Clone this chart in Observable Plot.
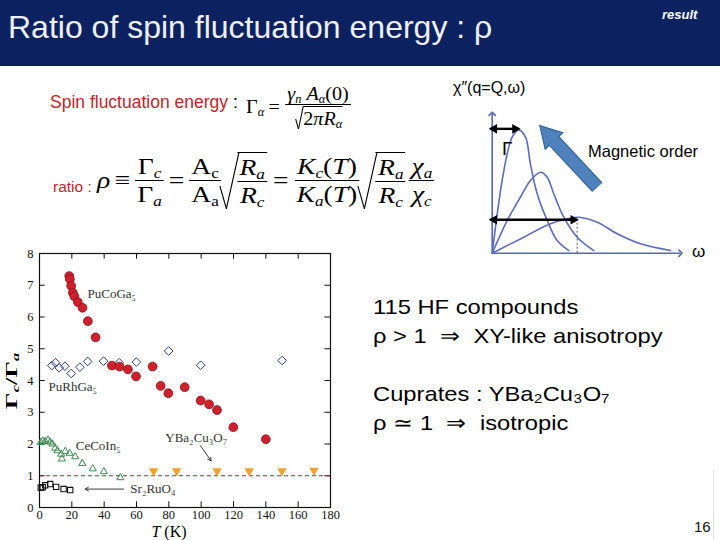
<!DOCTYPE html>
<html>
<head>
<meta charset="utf-8">
<script src="https://cdn.jsdelivr.net/npm/d3@7"></script>
<script src="https://cdn.jsdelivr.net/npm/@observablehq/plot@0.6"></script>
<style>
html,body{margin:0;padding:0;background:#fff;}
#slide{position:relative;width:720px;height:540px;overflow:hidden;background:#fff;font-family:"Liberation Sans",Arial,sans-serif;color:#000;}
.abs{position:absolute;white-space:nowrap;line-height:1;}
#header{left:0;top:0;width:720px;height:66px;background:#0c2260;}
#title{left:8px;top:11px;font-size:32px;color:#eef0f6;}
#result{left:662px;top:8px;font-size:13px;font-style:italic;font-weight:bold;color:#fff;}
.red{color:#c3242b;}
.math{font-family:"Liberation Serif","Times New Roman",serif;display:flex;align-items:center;}
.frac{display:inline-flex;flex-direction:column;align-items:center;line-height:1.12;}
.frac>span{padding:0 2px;}
.frac>span:first-child{border-bottom:1px solid #000;}
sub{font-size:0.62em;vertical-align:-0.25em;line-height:0;}
.sqrt{display:inline-block;position:relative;padding-left:14px;vertical-align:middle;}
.sqrt>.rad{display:inline-block;border-top:1.2px solid #000;padding-top:1px;}
.sqrt::before{content:"";position:absolute;left:4px;top:0;bottom:0;border-left:1.3px solid #000;transform:skewX(-11deg);transform-origin:bottom;}
.sqrt::after{content:"";position:absolute;left:4px;bottom:0;height:40%;border-left:1.3px solid #000;transform:skewX(14deg);transform-origin:bottom;}
.sqrt.s{padding-left:9px;}
.sqrt.s::after{height:45%;}
#notes{left:373px;top:292px;font-size:21px;line-height:29px;white-space:pre;transform:scaleX(1.13);transform-origin:left top;}
</style>
</head>
<body>
<div id="slide">
  <div class="abs" id="header"></div>
  <div class="abs" id="title">Ratio of spin fluctuation energy : ρ</div>
  <div class="abs" id="result">result</div>

  <div class="abs" style="left:50px;top:94px;font-size:17.5px;"><span class="red">Spin fluctuation energy</span> :</div>
  <div class="abs math" id="f1" style="left:246px;top:83px;font-size:19px;transform:scaleX(1.06);transform-origin:left top;">
    <span>Γ<sub><i>α</i></sub></span><span style="margin:0 5px 0 4px">=</span>
    <span class="frac"><span><i>γ<sub>n</sub></i> <i>A<sub>α</sub></i>(0)</span><span><span class="sqrt s"><span class="rad">2<i>πR<sub>α</sub></i></span></span></span></span>
  </div>

  <div class="abs red" style="left:53px;top:179px;font-size:15.5px;">ratio :</div>
  <div class="abs math" id="f2" style="left:97px;top:152px;font-size:24px;transform:scaleX(1.15);transform-origin:left top;">
    <span><i>ρ</i></span><span style="margin:0 4px">≡</span>
    <span class="frac"><span>Γ<sub><i>c</i></sub></span><span>Γ<sub><i>a</i></sub></span></span>
    <span style="margin:0 4px">=</span>
    <span class="frac"><span>A<sub>c</sub></span><span>A<sub>a</sub></span></span>
    <span class="sqrt"><span class="rad"><span class="frac"><span><i>R<sub>a</sub></i></span><span><i>R<sub>c</sub></i></span></span></span></span>
    <span style="margin:0 5px">=</span>
    <span class="frac"><span><i>K<sub>c</sub></i>(<i>T</i>)</span><span><i>K<sub>a</sub></i>(<i>T</i>)</span></span>
    <span class="sqrt"><span class="rad"><span class="frac"><span><i>R<sub>a</sub></i></span><span><i>R<sub>c</sub></i></span></span></span></span>
    <span class="frac" style="margin-left:3px"><span><i>χ<sub>a</sub></i></span><span><i>χ<sub>c</sub></i></span></span>
  </div>

  <div class="abs" style="left:453px;top:80px;font-size:16px;">χ″(q=Q,ω)</div>
  <div class="abs" id="schematic" style="left:440px;top:70px;"></div>
  <div class="abs" style="left:588px;top:143px;font-size:16.5px;">Magnetic order</div>

  <div class="abs" id="scatter" style="left:0px;top:240px;"></div>
  <div class="abs" style="left:11px;top:381px;transform:translate(-50%,-50%) rotate(-90deg);font-family:'Liberation Serif',serif;font-weight:bold;font-size:17px;"><span style="display:inline-block;transform:scaleX(1.55);">Γ<sub><i>c</i></sub>/Γ<sub><i>a</i></sub></span></div>
  <div class="abs" style="left:169px;top:532px;transform:translate(-50%,-50%);font-family:'Liberation Serif',serif;font-size:16px;"><i>T</i> (K)</div>

  <div class="abs" id="notes">115 HF compounds
ρ &gt; 1  ⇒  XY-like anisotropy

Cuprates : YBa₂Cu₃O₇
ρ ≃ 1  ⇒  isotropic</div>

  <div class="abs" style="left:694px;top:519px;font-size:15px;color:#111;">16</div>
  <div class="abs" style="left:713px;top:470px;width:1px;height:70px;background:#e2e2e2;"></div>
</div>

<script>
// ---------- scatter data (Γc/Γa vs T) ----------
const xTicks = [0, 20, 40, 60, 80, 100, 120, 140, 160, 180];
const yTicks = [0, 1, 2, 3, 4, 5, 6, 7, 8];

const puCoGaT = [18.4, 18.8, 19.6, 20.6, 21.5, 23.7, 26.6, 29.9, 34.7, 44.8, 49.5, 54.7, 59.7, 70.0, 74.9, 79.7, 89.8, 99.7, 104.9, 109.8, 119.9, 140.0];
const puCoGaR = [7.29, 7.19, 6.98, 6.77, 6.66, 6.47, 6.29, 5.87, 5.36, 4.47, 4.44, 4.35, 4.13, 4.44, 3.83, 3.60, 3.79, 3.37, 3.25, 3.07, 2.53, 2.15];

const puRhGaT = [7.6, 9.9, 12.2, 15.7, 19.6, 25.0, 29.8, 39.6, 49.3, 59.9, 79.9, 99.7, 150.1];
const puRhGaR = [4.47, 4.56, 4.40, 4.45, 4.22, 4.42, 4.60, 4.61, 4.56, 4.58, 4.93, 4.48, 4.63];

const ceCoInT = [0.8, 2.0, 3.5, 5.2, 6.6, 8.0, 9.7, 11.1, 13.4, 13.9, 15.9, 18.6, 22.1, 26.5, 33.0, 39.8, 50.0];
const ceCoInR = [2.05, 2.10, 2.08, 2.13, 2.06, 2.00, 1.87, 1.79, 1.68, 1.53, 1.77, 1.71, 1.60, 1.39, 1.22, 1.13, 0.94];

const ybcoT = [70.6, 84.8, 109.8, 129.7, 150.0, 169.8];
const ybcoR = [1.15, 1.15, 1.15, 1.15, 1.15, 1.17];

const srRuT = [0.8, 2.0, 3.5, 6.6, 10.3, 14.9, 19.0];
const srRuR = [0.62, 0.64, 0.70, 0.74, 0.65, 0.58, 0.55];

const labelText = ["PuCoGa₅", "PuRhGa₅", "CeCoIn₅", "YBa₂Cu₃O₇", "Sr₂RuO₄"];
const labelT = [29.7, 5.6, 22.4, 77.8, 56.2];
const labelR = [6.74, 3.79, 1.95, 2.21, 0.58];

const arrowT1 = [99.5, 52.0];
const arrowR1 = [1.95, 0.58];
const arrowT2 = [106.1, 28.3];
const arrowR2 = [1.47, 0.58];

const isotropicLine = [1];

const pts = (T, R) => T.map((t, i) => ({T: t, R: R[i]}));
const labels = labelText.map((s, i) => ({s, T: labelT[i], R: labelR[i]}));
const arrows = arrowT1.map((t, i) => ({T1: t, R1: arrowR1[i], T2: arrowT2[i], R2: arrowR2[i]}));

const scatter = Plot.plot({
  width: 340, height: 300,
  marginLeft: 39, marginRight: 10, marginTop: 13, marginBottom: 33,
  x: {domain: [0, 180]},
  y: {domain: [0, 8]},
  style: {fontFamily: '"Liberation Serif", "Times New Roman", serif', fontSize: "12.5px", background: "transparent", color: "#111", overflow: "visible"},
  marks: [
    Plot.axisX({ticks: xTicks, tickSize: 0, tickPadding: 3, label: null, fontSize: 12.5}),
    Plot.axisY({ticks: yTicks, tickSize: 0, tickPadding: 6, label: null, fontSize: 12.5}),
    Plot.ruleX(xTicks, {x: d => d, y1: 0, y2: 0.18, stroke: "#111"}),
    Plot.ruleX(xTicks, {x: d => d, y1: 8, y2: 7.82, stroke: "#111"}),
    Plot.ruleY(yTicks, {y: d => d, x1: 0, x2: 3.5, stroke: "#111"}),
    Plot.ruleY(yTicks, {y: d => d, x1: 180, x2: 176.5, stroke: "#111"}),
    Plot.ruleY(isotropicLine, {stroke: "#a3282f", strokeWidth: 1, strokeDasharray: "4,3"}),
    Plot.frame({stroke: "#111", strokeWidth: 1.2}),
    Plot.dot(pts(srRuT, srRuR), {x: "T", y: "R", symbol: "square2", r: 3.4, stroke: "#111", strokeWidth: 1.1}),
    Plot.dot(pts(ceCoInT, ceCoInR), {x: "T", y: "R", symbol: "triangle2", r: 3.4, stroke: "#3b8a52", strokeWidth: 1}),
    Plot.dot(pts(puRhGaT, puRhGaR), {x: "T", y: "R", symbol: "diamond2", r: 3.9, stroke: "#2e3a8c", strokeWidth: 1}),
    Plot.dot(pts(puCoGaT, puCoGaR), {x: "T", y: "R", r: 4.4, fill: "#d0202b", stroke: "#8a1219", strokeWidth: 0.8}),
    Plot.dot(pts(ybcoT, ybcoR), {x: "T", y: "R", symbol: "triangle", r: 3.5, rotate: 180, fill: "#f0a12e"}),
    Plot.text(labels, {x: "T", y: "R", text: "s", textAnchor: "start", fontSize: 13, fill: "#333"}),
    Plot.arrow(arrows, {x1: "T1", y1: "R1", x2: "T2", y2: "R2", stroke: "#222", strokeWidth: 0.9, headLength: 6})
  ]
});
document.getElementById("scatter").appendChild(scatter);

// ---------- schematic χ''(ω) curves ----------
const curve1W = [0, 0.62, 1.06, 1.41, 1.77, 2.03, 2.39, 2.92, 3.45, 4.07];
const curve1H = [0, 5.93, 8.32, 8.85, 8.32, 6.41, 4.26, 2.35, 0.91, 0.19];
const curve2W = [0, 0.80, 1.50, 2.03, 2.57, 2.92, 3.27, 3.80, 4.51, 5.40];
const curve2H = [0, 2.35, 4.02, 5.22, 5.81, 5.45, 4.26, 2.58, 1.15, 0.19];
const curve3W = [0, 1.68, 3.10, 4.51, 5.58, 6.64, 7.88, 9.47];
const curve3H = [0, 1.15, 2.11, 2.58, 2.22, 1.39, 0.67, 0.19];

const axisEnds = [{w1: 0, h1: 0, w2: 0, h2: 10}, {w1: 0, h1: 0, w2: 10, h2: 0}];
const widthArrows = [{w1: -0.09, h1: 8.92, w2: 1.41, h2: 8.92}, {w1: -0.09, h1: 2.40, w2: 4.51, h2: 2.40}];
const peakDrop = [{w: 4.51, h1: 0, h2: 2.40}];
const orderArrowTail = [5.58, 4.73];
const orderArrowHead = [3.03, 8.42];
const schemLabels = [{s: "Γ", w: 0.80, h: 7.45, size: 19}, {s: "ω", w: 10.96, h: 0.14, size: 17}];

const cpts = (W, H) => W.map((w, i) => ({w, h: H[i]}));
const shaft = [{w1: orderArrowTail[0], h1: orderArrowTail[1], w2: orderArrowHead[0], h2: orderArrowHead[1]}];
const arrowTips = widthArrows.flatMap(a => [{w: a.w1 + 0.2, h: a.h1, rot: -90}, {w: a.w2 - 0.2, h: a.h2, rot: 90}]);

const schematic = Plot.plot({
  width: 280, height: 200,
  marginLeft: 51.7, marginRight: 40, marginTop: 43.3, marginBottom: 17.3,
  x: {domain: [0, 10], axis: null},
  y: {domain: [0, 10], axis: null},
  style: {background: "transparent", overflow: "visible", fontFamily: '"Liberation Sans", Arial, sans-serif'},
  marks: [
    Plot.link(axisEnds, {x1: "w1", y1: "h1", x2: "w2", y2: "h2", stroke: "#5568b8", strokeWidth: 1.6, markerEnd: "arrow"}),
    Plot.line(cpts(curve1W, curve1H), {x: "w", y: "h", curve: "catmull-rom", stroke: "#5b6bbd", strokeWidth: 1.6}),
    Plot.line(cpts(curve2W, curve2H), {x: "w", y: "h", curve: "catmull-rom", stroke: "#5b6bbd", strokeWidth: 1.6}),
    Plot.line(cpts(curve3W, curve3H), {x: "w", y: "h", curve: "catmull-rom", stroke: "#5b6bbd", strokeWidth: 1.6}),
    Plot.ruleX(peakDrop, {x: "w", y1: "h1", y2: "h2", stroke: "#333", strokeWidth: 0.8, strokeDasharray: "2,2"}),
    Plot.link(widthArrows, {x1: "w1", y1: "h1", x2: "w2", y2: "h2", stroke: "#000", strokeWidth: 2.4}),
    Plot.dot(arrowTips, {x: "w", y: "h", symbol: "triangle", r: 3.6, rotate: "rot", fill: "#000"}),
    Plot.link(shaft, {x1: "w1", y1: "h1", x2: "w2", y2: "h2", stroke: "#2f5f95", strokeWidth: 14}),
    Plot.dot([{w: orderArrowHead[0], h: orderArrowHead[1]}], {x: "w", y: "h", symbol: "triangle", r: 9, rotate: -43, fill: "#4f81bd", stroke: "#2f5f95", strokeWidth: 1}),
    Plot.link(shaft, {x1: "w1", y1: "h1", x2: "w2", y2: "h2", stroke: "#4f81bd", strokeWidth: 12}),
    Plot.text(schemLabels, {x: "w", y: "h", text: "s", fontSize: "size", fill: "#000"})
  ]
});
document.getElementById("schematic").appendChild(schematic);
</script>
</body>
</html>
